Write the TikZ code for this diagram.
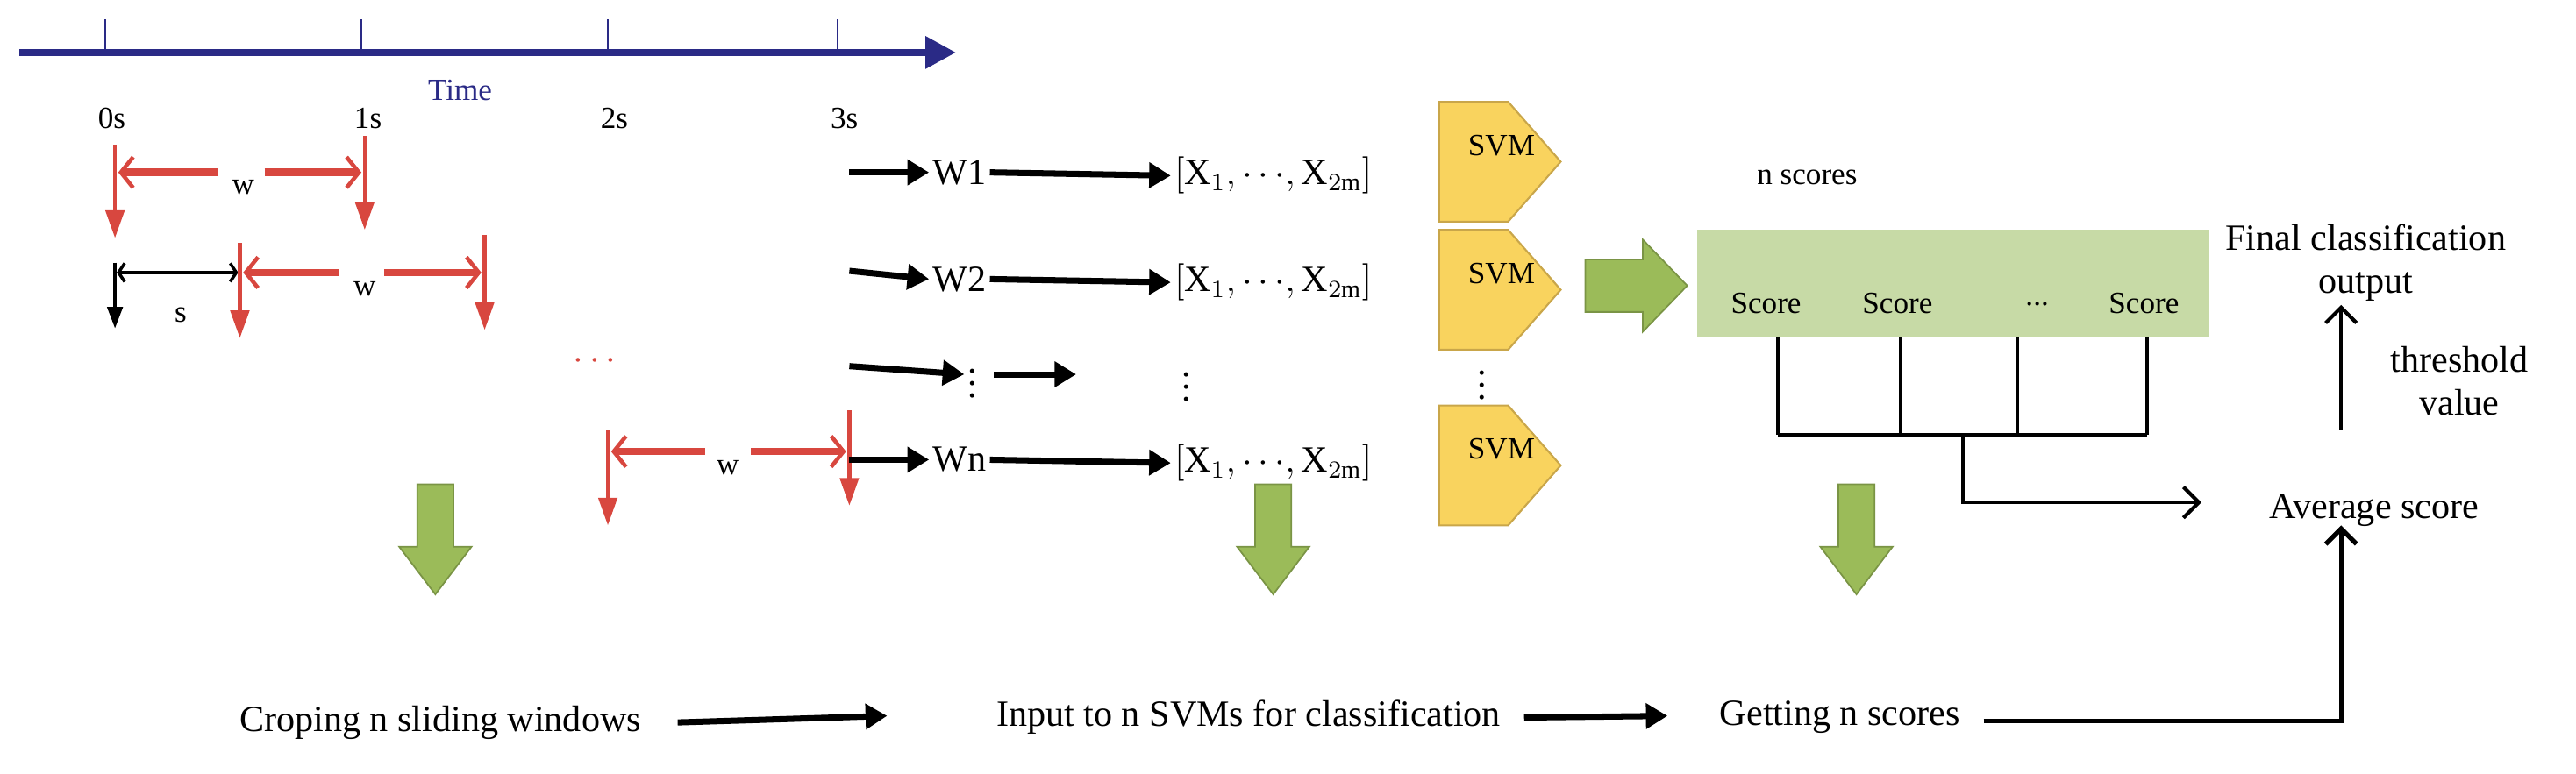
\documentclass[tikz,border=0pt]{standalone}
\usepackage{fontspec}
\setmainfont{Liberation Serif}
\usetikzlibrary{arrows.meta}
\definecolor{navy}{HTML}{2A2A86}
\definecolor{wred}{HTML}{D8473F}
\definecolor{svmfill}{HTML}{F9D35E}
\definecolor{svmline}{HTML}{C9A64A}
\definecolor{gfill}{HTML}{9BBB59}
\definecolor{gline}{HTML}{7A9445}
\definecolor{boxfill}{HTML}{C7DAA6}
\begin{document}
\begin{tikzpicture}[x=0.018731cm,y=-0.018731cm,
  txt/.style={font=\fontsize{12}{14}\selectfont,inner sep=1pt},
  stxt/.style={font=\fontsize{10}{12}\selectfont,inner sep=1pt},
  blk/.style={line width=2pt,-{Triangle[length=7pt,width=8pt]}},
  thin/.style={line width=1.2pt},
  rdown/.style={wred,line width=1.3pt,-{Triangle[length=9pt,width=6pt]}},
  rhor/.style={wred,line width=2.5pt,-{Straight Barb[length=4pt,width=10pt,line width=1.3pt]}},
  svm/.style={fill=svmfill,draw=svmline,line width=0.6pt},
  garr/.style={fill=gfill,draw=gline,line width=0.5pt}
]
\useasboundingbox (0,0) rectangle (1568,471);
% timeline
\coordinate (t0) at (12,32); \coordinate (t1) at (582,32);
\draw[navy,line width=2.5pt,-{Triangle[length=10pt,width=10pt]}] (t0) -- (t1);
\foreach \x/\l in {64/0s,220/1s,370/2s,510/3s}{
  \draw[navy,line width=0.6pt] (\x,12) -- (\x,32);
  \node[stxt] (lab\l) at (\x+4,72) {\l};}
\node[stxt,text=navy] (time) at (280,55) {Time};
% window 1
\draw[rdown] (70,88) -- (70,145);
\draw[rdown] (222,83) -- (222,140);
\node[stxt] (w1l) at (148,114) {w};
\draw[rhor] (133,105) -- (72,105);
\draw[rhor] (161,105) -- (220,105);
% window 2
\draw[line width=1pt,-{Triangle[length=7pt,width=5pt]}] (70,160) -- (70,200);
\draw[line width=1pt,{Straight Barb[length=2pt,width=6pt]}-{Straight Barb[length=2pt,width=6pt]}] (71,166) -- (145,166);
\node[stxt] (s) at (110,192) {s};
\draw[rdown] (146,148) -- (146,206);
\draw[rdown] (295,143) -- (295,201);
\node[stxt] (w2l) at (222,176) {w};
\draw[rhor] (206,166) -- (148,166);
\draw[rhor] (234,166) -- (293,166);
\node[text=wred,font=\bfseries\fontsize{12}{12}\selectfont] (rd) at (362,220) {$\cdots$};
% window n
\draw[rdown] (370,262) -- (370,320);
\draw[rdown] (517,250) -- (517,308);
\node[stxt] (wnl) at (443,285) {w};
\draw[rhor] (429,275) -- (372,275);
\draw[rhor] (457,275) -- (515,275);
% W rows
\foreach \y/\n/\yy in {105/W1/105,165/W2/170,280/Wn/280}{
  \node[txt] (\n) at (584,\yy) {\n};
  \draw[blk] (517,\y) -- (\n.west);
  \node[txt] (v\n) at (775,\yy+2) {$\left[\mathrm{X}_1,\cdots\!,\mathrm{X}_{2\mathrm{m}}\right]$};
  \draw[blk] (\n.east) -- (v\n.west);
}
\node[txt] (vd1) at (592,228) {$\vdots$};
\node[txt] (vd2) at (722,230) {$\vdots$};
\draw[blk] (517,223) -- (vd1.west);
\draw[blk] (vd1.east) ++(8,0) -- ++(50,0);
% SVMs
\foreach \a/\b/\k in {62/135/1,140/213/2,247/320/3}{
  \draw[svm] (876,\a) -- (918,\a) -- (950,{(\a+\b)/2}) -- (918,\b) -- (876,\b) -- cycle;
  \node[stxt] (svm\k) at (914,{(\a+\b)/2-10}) {SVM};}
\node[txt] (vd3) at (902,229) {$\vdots$};
% green arrow right
\draw[garr] (965,158) -- (1000,158) -- (1000,146) -- (1027,174) -- (1000,202) -- (1000,190) -- (965,190) -- cycle;
% score box
\fill[boxfill] (1033,140) rectangle (1345,205);
\node[stxt] (nsc) at (1100,108) {n scores};
\foreach \x/\t/\k in {1075/Score/a,1155/Score/b,1240/{...}/c,1305/Score/d}{
  \node[stxt] (sc\k) at (\x,185) {\t};}
\foreach \x in {1082,1157,1228,1307}{\draw[thin] (\x,205) -- (\x,265);}
\draw[thin] (1082,265) -- (1307,265);
\node[txt] (avg) at (1445,311) {Average score};
\node[txt,align=center] (fin) at (1440,160) {Final classification\\output};
\node[txt,align=center] (thr) at (1497,232) {threshold\\value};
\draw[thin,-{Straight Barb[length=5pt,width=10pt]}] (1195,265) |- (1340,306);
\coordinate (up0) at (1425,262);
\draw[thin,-{Straight Barb[length=5pt,width=10pt]}] (up0) -- (up0 |- fin.south);
% green down arrows
\foreach \x in {265,775,1130}{
  \draw[garr] (\x-11,295) -- (\x+11,295) -- (\x+11,333) -- (\x+22,333) -- (\x,362) -- (\x-22,333) -- (\x-11,333) -- cycle;}
% bottom row
\node[txt] (crop) at (268,440) {Croping n sliding windows};
\node[txt] (inp) at (760,437) {Input to n SVMs for classification};
\node[txt] (get) at (1120,437) {Getting n scores};
\draw[blk] (crop.east) ++(20,0) -- (540,436);
\draw[blk] (inp.east) ++(12,0) -- (1015,436);
\draw[line width=1.5pt,-{Straight Barb[length=5pt,width=10pt]}] (get.east) ++(12,2) -| (1425,320);
\end{tikzpicture}
\end{document}
